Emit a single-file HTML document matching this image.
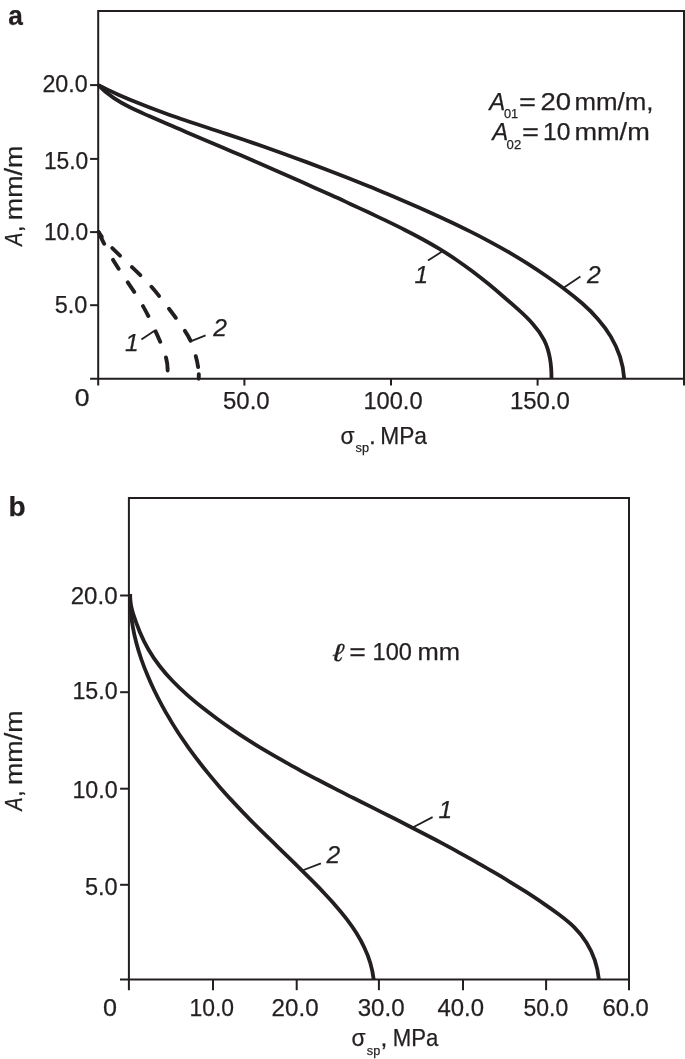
<!DOCTYPE html>
<html lang="en">
<head>
<meta charset="utf-8">
<title>Figure</title>
<style>
html,body{margin:0;padding:0;background:#fff;}
body{width:685px;height:1059px;overflow:hidden;}
svg{display:block;}
svg text{font-family:"Liberation Sans", sans-serif;fill:#231f20;stroke:#231f20;stroke-width:0.25px;}
svg path,svg line{fill:none;stroke:#231f20;stroke-linecap:butt;stroke-linejoin:miter;}
</style>
</head>
<body>
<svg width="685" height="1059" viewBox="0 0 685 1059">
<rect width="685" height="1059" fill="#fff" stroke="none"/>
<!-- chart a -->
<path d="M90.1 378.8H684.0V10.9H98.2V385.6" stroke-width="2.00"/>
<line x1="684.0" y1="378.8" x2="684.0" y2="385.6" stroke-width="2.00"/>
<line x1="244.4" y1="378.8" x2="244.4" y2="385.6" stroke-width="2.00"/>
<line x1="391.0" y1="378.8" x2="391.0" y2="385.6" stroke-width="2.00"/>
<line x1="537.6" y1="378.8" x2="537.6" y2="385.6" stroke-width="2.00"/>
<line x1="90.1" y1="85.1" x2="98.2" y2="85.1" stroke-width="2.00"/>
<line x1="90.1" y1="158.9" x2="98.2" y2="158.9" stroke-width="2.00"/>
<line x1="90.1" y1="232.1" x2="98.2" y2="232.1" stroke-width="2.00"/>
<line x1="90.1" y1="305.2" x2="98.2" y2="305.2" stroke-width="2.00"/>
<text x="42.4" y="92.1" font-size="24.6" textLength="45.4" lengthAdjust="spacingAndGlyphs">20.0</text>
<text x="43.9" y="169.1" font-size="24.6" textLength="44.4" lengthAdjust="spacingAndGlyphs">15.0</text>
<text x="43.9" y="239.8" font-size="24.6" textLength="44.4" lengthAdjust="spacingAndGlyphs">10.0</text>
<text x="54.8" y="312.7" font-size="24.6" textLength="32.6" lengthAdjust="spacingAndGlyphs">5.0</text>
<text x="74.8" y="405.8" font-size="24.6" textLength="14.8" lengthAdjust="spacingAndGlyphs">0</text>
<text x="223.0" y="408.6" font-size="24.6" textLength="46.6" lengthAdjust="spacingAndGlyphs">50.0</text>
<text x="363.4" y="408.6" font-size="24.6" textLength="59.2" lengthAdjust="spacingAndGlyphs">100.0</text>
<text x="509.9" y="408.6" font-size="24.6" textLength="60.0" lengthAdjust="spacingAndGlyphs">150.0</text>
<text x="340.4" y="443.8" font-size="24.6" textLength="14.0" lengthAdjust="spacingAndGlyphs">σ</text>
<text x="355.6" y="452.4" font-size="13.6" textLength="13.4" lengthAdjust="spacingAndGlyphs">sp</text>
<text x="369.0" y="443.8" font-size="24.6">.</text>
<text x="380.2" y="443.8" font-size="24.6" textLength="46.8" lengthAdjust="spacingAndGlyphs">MPa</text>
<g transform="translate(22.2 246.8) rotate(-90)">
<text x="1.0" y="0.0" font-size="24.6" font-style="italic" textLength="13.0" lengthAdjust="spacingAndGlyphs">A</text>
<text x="14.6" y="0.0" font-size="24.6">,</text>
<text x="26.6" y="0.0" font-size="24.6" textLength="74.6" lengthAdjust="spacingAndGlyphs">mm/m</text>
</g>
<text x="489.2" y="109.5" font-size="24.6" font-style="italic" textLength="16.0" lengthAdjust="spacingAndGlyphs">A</text>
<text x="504.0" y="118.2" font-size="13.6" textLength="14.2" lengthAdjust="spacingAndGlyphs">01</text>
<text x="519.0" y="109.5" font-size="24.6" textLength="17.0" lengthAdjust="spacingAndGlyphs">=</text>
<text x="540.4" y="109.5" font-size="24.6" textLength="30.6" lengthAdjust="spacingAndGlyphs">20</text>
<text x="574.4" y="109.5" font-size="24.6" textLength="79.0" lengthAdjust="spacingAndGlyphs">mm/m,</text>
<text x="492.2" y="139.8" font-size="24.6" font-style="italic" textLength="16.0" lengthAdjust="spacingAndGlyphs">A</text>
<text x="506.6" y="148.6" font-size="13.6" textLength="14.6" lengthAdjust="spacingAndGlyphs">02</text>
<text x="522.0" y="139.8" font-size="24.6" textLength="17.0" lengthAdjust="spacingAndGlyphs">=</text>
<text x="543.0" y="139.8" font-size="24.6" textLength="27.4" lengthAdjust="spacingAndGlyphs">10</text>
<text x="574.4" y="139.8" font-size="24.6" textLength="75.4" lengthAdjust="spacingAndGlyphs">mm/m</text>
<text x="8.2" y="25.2" font-size="28.0" font-weight="bold" textLength="14.6" lengthAdjust="spacingAndGlyphs">a</text>
<path d="M98.4 85.1C105.0 88.5 111.7 91.6 118.4 94.7C125.2 97.7 132.0 100.6 138.9 103.3C145.7 106.1 152.6 108.7 159.6 111.2C166.5 113.8 173.5 116.2 180.5 118.7C187.5 121.1 194.5 123.4 201.6 125.7C208.6 128.1 215.6 130.4 222.7 132.7C229.7 135.1 236.7 137.4 243.8 139.8C250.8 142.2 257.8 144.6 264.8 147.0C271.8 149.5 278.7 152.0 285.7 154.5C292.7 157.0 299.6 159.5 306.6 162.1C313.5 164.7 320.4 167.3 327.4 170.0C334.3 172.6 341.2 175.3 348.1 178.0C354.9 180.7 361.8 183.5 368.7 186.3C375.5 189.0 382.4 191.9 389.2 194.7C396.0 197.6 402.8 200.5 409.6 203.4C416.4 206.3 423.2 209.3 430.0 212.4C436.7 215.4 443.4 218.5 450.1 221.7C456.8 224.8 463.4 228.1 470.0 231.4C476.7 234.7 483.2 238.1 489.7 241.6C496.2 245.1 502.7 248.7 509.1 252.4C515.5 256.2 521.8 260.0 528.0 263.9C534.3 267.9 540.5 272.0 546.6 276.2C552.7 280.4 558.8 284.7 564.7 289.2C570.7 293.7 576.5 298.4 582.1 303.3C587.7 308.2 593.0 313.4 597.8 318.9C602.7 324.4 607.1 330.3 610.8 336.6C614.6 343.0 617.7 349.7 620.0 356.7C622.3 363.8 623.7 371.1 624.2 378.7" stroke-width="3.80"/>
<path d="M98.4 85.1C103.0 90.0 108.2 94.2 113.6 97.9C119.1 101.6 124.9 104.9 130.9 107.8C136.8 110.8 143.0 113.4 149.1 116.1C155.3 118.8 161.4 121.4 167.5 124.0C173.6 126.6 179.8 129.2 185.9 131.9C192.0 134.5 198.1 137.1 204.2 139.7C210.4 142.3 216.5 144.9 222.6 147.5C228.7 150.1 234.8 152.7 240.9 155.3C247.0 157.9 253.1 160.6 259.2 163.2C265.3 165.9 271.4 168.5 277.4 171.2C283.5 173.9 289.6 176.5 295.7 179.2C301.8 181.9 307.8 184.6 313.9 187.4C320.0 190.1 326.0 192.8 332.1 195.6C338.2 198.3 344.2 201.1 350.3 203.9C356.3 206.7 362.4 209.5 368.4 212.3C374.4 215.2 380.5 218.0 386.5 220.9C392.5 223.8 398.5 226.7 404.4 229.7C410.4 232.7 416.3 235.8 422.1 239.0C428.0 242.2 433.7 245.5 439.4 248.9C445.1 252.4 450.7 255.9 456.2 259.7C461.6 263.4 467.0 267.3 472.3 271.3C477.6 275.3 482.8 279.4 488.0 283.6C493.1 287.8 498.2 292.1 503.3 296.5C508.3 300.8 513.4 305.2 518.4 309.7C523.3 314.1 528.2 318.7 532.6 323.7C537.0 328.6 541.0 333.9 544.0 339.8C547.0 345.6 548.9 352.1 550.0 358.7C551.2 365.3 551.5 372.1 551.5 378.7" stroke-width="3.80"/>
<path d="M98.6 232.1C100.4 236.1 102.2 240.0 104.2 243.8M113.0 259.8C114.8 262.8 116.7 265.8 118.6 268.8M127.8 282.4C129.9 285.6 132.1 288.7 134.2 291.9M143.0 306.1C144.9 309.4 146.6 312.7 148.3 316.0M155.6 331.4C157.2 334.8 158.7 338.3 160.2 341.8M166.0 357.4C167.1 361.7 167.8 366.0 167.6 370.5" stroke-width="3.90" style="stroke-linecap:round"/>
<path d="M98.6 232.1C99.6 233.7 100.6 235.1 101.7 236.6M112.3 248.1C114.9 250.6 117.4 253.1 120.0 255.6M132.0 267.1C134.8 269.7 137.6 272.4 140.3 275.1M151.5 286.8C154.1 289.8 156.6 292.8 159.0 295.9M169.0 308.7C171.3 311.7 173.6 314.7 175.8 317.8M184.9 330.9C187.0 334.0 188.9 337.3 190.5 340.7M195.8 356.2C196.8 359.8 197.6 363.5 198.1 367.1M198.8 374.1C198.8 375.6 198.8 377.2 198.7 378.7" stroke-width="3.90" style="stroke-linecap:round"/>
<line x1="442.0" y1="251.6" x2="428.0" y2="260.6" stroke-width="1.80"/>
<text x="414.6" y="283.0" font-size="24.6" font-style="italic">1</text>
<line x1="564.0" y1="287.4" x2="580.4" y2="276.4" stroke-width="1.80"/>
<text x="587.0" y="282.6" font-size="24.6" font-style="italic">2</text>
<line x1="154.9" y1="330.6" x2="141.4" y2="339.5" stroke-width="1.80"/>
<text x="125.0" y="351.0" font-size="24.6" font-style="italic">1</text>
<line x1="191.2" y1="341.2" x2="205.6" y2="335.4" stroke-width="1.80"/>
<text x="213.2" y="336.2" font-size="24.6" font-style="italic">2</text>
<!-- chart b -->
<path d="M120.0 979.5H629.0V498.0H128.9V990.2" stroke-width="2.00"/>
<line x1="629.0" y1="979.5" x2="629.0" y2="990.2" stroke-width="2.00"/>
<line x1="213.0" y1="979.5" x2="213.0" y2="990.2" stroke-width="2.00"/>
<line x1="296.7" y1="979.5" x2="296.7" y2="990.2" stroke-width="2.00"/>
<line x1="378.9" y1="979.5" x2="378.9" y2="990.2" stroke-width="2.00"/>
<line x1="463.0" y1="979.5" x2="463.0" y2="990.2" stroke-width="2.00"/>
<line x1="546.1" y1="979.5" x2="546.1" y2="990.2" stroke-width="2.00"/>
<line x1="120.1" y1="595.5" x2="128.9" y2="595.5" stroke-width="2.00"/>
<line x1="120.1" y1="692.2" x2="128.9" y2="692.2" stroke-width="2.00"/>
<line x1="120.1" y1="788.7" x2="128.9" y2="788.7" stroke-width="2.00"/>
<line x1="120.1" y1="884.8" x2="128.9" y2="884.8" stroke-width="2.00"/>
<text x="70.7" y="604.1" font-size="24.6" textLength="46.9" lengthAdjust="spacingAndGlyphs">20.0</text>
<text x="72.4" y="699.3" font-size="24.6" textLength="45.2" lengthAdjust="spacingAndGlyphs">15.0</text>
<text x="72.4" y="798.1" font-size="24.6" textLength="45.2" lengthAdjust="spacingAndGlyphs">10.0</text>
<text x="84.9" y="894.5" font-size="24.6" textLength="32.7" lengthAdjust="spacingAndGlyphs">5.0</text>
<text x="103.0" y="1016.0" font-size="24.6" textLength="14.0" lengthAdjust="spacingAndGlyphs">0</text>
<text x="189.5" y="1016.2" font-size="24.6" textLength="44.6" lengthAdjust="spacingAndGlyphs">10.0</text>
<text x="271.6" y="1016.2" font-size="24.6" textLength="47.0" lengthAdjust="spacingAndGlyphs">20.0</text>
<text x="357.7" y="1016.2" font-size="24.6" textLength="47.0" lengthAdjust="spacingAndGlyphs">30.0</text>
<text x="437.4" y="1016.2" font-size="24.6" textLength="46.6" lengthAdjust="spacingAndGlyphs">40.0</text>
<text x="523.5" y="1016.2" font-size="24.6" textLength="44.7" lengthAdjust="spacingAndGlyphs">50.0</text>
<text x="602.4" y="1016.2" font-size="24.6" textLength="46.4" lengthAdjust="spacingAndGlyphs">60.0</text>
<text x="351.6" y="1046.0" font-size="24.6" textLength="14.0" lengthAdjust="spacingAndGlyphs">σ</text>
<text x="366.8" y="1054.6" font-size="13.6" textLength="13.4" lengthAdjust="spacingAndGlyphs">sp</text>
<text x="380.4" y="1046.0" font-size="24.6">,</text>
<text x="392.8" y="1046.0" font-size="24.6" textLength="45.6" lengthAdjust="spacingAndGlyphs">MPa</text>
<g transform="translate(22.2 811.6) rotate(-90)">
<text x="1.0" y="0.0" font-size="24.6" font-style="italic" textLength="13.0" lengthAdjust="spacingAndGlyphs">A</text>
<text x="14.6" y="0.0" font-size="24.6">,</text>
<text x="26.6" y="0.0" font-size="24.6" textLength="74.6" lengthAdjust="spacingAndGlyphs">mm/m</text>
</g>
<text x="8.6" y="516.4" font-size="28.0" font-weight="bold">b</text>
<text x="333.0" y="660.6" font-size="24.6" font-style="italic" textLength="10.4" lengthAdjust="spacingAndGlyphs">ℓ</text>
<text x="349.2" y="660.4" font-size="24.6" textLength="16.6" lengthAdjust="spacingAndGlyphs">=</text>
<text x="372.6" y="660.4" font-size="24.6" textLength="39.4" lengthAdjust="spacingAndGlyphs">100</text>
<text x="417.4" y="660.4" font-size="24.6" textLength="42.6" lengthAdjust="spacingAndGlyphs">mm</text>
<path d="M130.2 594.0C129.7 600.8 131.1 607.1 133.0 613.3C135.0 619.5 137.3 625.8 139.8 632.0C142.4 638.2 145.3 644.2 148.6 649.8C151.9 655.5 155.6 660.9 159.6 666.0C163.6 671.2 167.9 676.1 172.4 680.8C176.9 685.5 181.7 690.1 186.6 694.4C191.5 698.8 196.6 703.0 201.7 707.1C206.9 711.2 212.1 715.1 217.4 719.0C222.7 722.9 228.0 726.6 233.5 730.3C238.9 734.0 244.4 737.6 249.9 741.1C255.4 744.6 261.0 748.0 266.7 751.4C272.3 754.7 278.0 758.0 283.7 761.2C289.4 764.5 295.2 767.6 300.9 770.8C306.7 773.9 312.5 777.0 318.4 780.0C324.2 783.1 330.0 786.1 335.9 789.1C341.8 792.1 347.6 795.1 353.5 798.0C359.4 801.0 365.3 803.9 371.2 806.9C377.1 809.9 382.9 812.8 388.8 815.8C394.7 818.7 400.6 821.7 406.4 824.7C412.3 827.7 418.1 830.7 423.9 833.7C429.8 836.8 435.6 839.8 441.4 842.9C447.2 846.0 453.0 849.1 458.7 852.3C464.5 855.4 470.2 858.6 475.9 861.8C481.6 865.1 487.3 868.3 492.9 871.7C498.6 875.0 504.2 878.3 509.8 881.8C515.4 885.2 521.0 888.7 526.5 892.2C532.0 895.8 537.5 899.4 542.9 903.1C548.4 906.8 553.7 910.6 559.0 914.5C564.3 918.5 569.5 922.5 574.1 927.1C578.8 931.7 582.9 936.9 586.4 942.5C589.9 948.0 592.7 954.0 594.8 960.2C596.9 966.5 598.3 972.9 598.9 979.5" stroke-width="3.80"/>
<path d="M130.2 594.0C130.1 599.6 130.2 605.2 130.7 610.8C131.1 616.3 131.9 621.8 132.9 627.3C133.8 632.7 135.1 638.2 136.5 643.5C137.9 648.9 139.6 654.2 141.4 659.5C143.2 664.7 145.2 669.9 147.4 675.0C149.5 680.2 151.8 685.3 154.2 690.3C156.6 695.3 159.1 700.2 161.8 705.1C164.4 710.0 167.2 714.9 170.1 719.6C172.9 724.4 175.9 729.1 178.9 733.8C182.0 738.4 185.2 743.0 188.4 747.6C191.7 752.1 195.0 756.6 198.4 761.0C201.8 765.5 205.3 769.8 208.8 774.1C212.4 778.5 216.0 782.7 219.6 786.9C223.3 791.1 227.0 795.3 230.8 799.4C234.6 803.5 238.4 807.6 242.3 811.6C246.1 815.6 250.0 819.5 253.9 823.5C257.8 827.4 261.8 831.3 265.7 835.2C269.7 839.0 273.7 842.9 277.7 846.8C281.6 850.6 285.6 854.5 289.6 858.4C293.6 862.3 297.6 866.2 301.5 870.1C305.5 874.0 309.4 877.9 313.4 881.9C317.3 885.9 321.2 889.9 325.0 894.0C328.9 898.1 332.7 902.2 336.3 906.5C340.0 910.7 343.5 915.0 346.9 919.4C350.3 923.9 353.5 928.4 356.4 933.1C359.3 937.8 362.0 942.6 364.3 947.5C366.7 952.5 368.7 957.6 370.3 963.0C371.9 968.3 373.0 973.8 373.7 979.5" stroke-width="3.80"/>
<line x1="411.8" y1="828.0" x2="432.6" y2="817.1" stroke-width="1.80"/>
<text x="438.6" y="817.8" font-size="24.6" font-style="italic">1</text>
<line x1="302.3" y1="870.5" x2="320.9" y2="863.3" stroke-width="1.80"/>
<text x="326.4" y="862.6" font-size="24.6" font-style="italic">2</text>
</svg>
</body>
</html>
